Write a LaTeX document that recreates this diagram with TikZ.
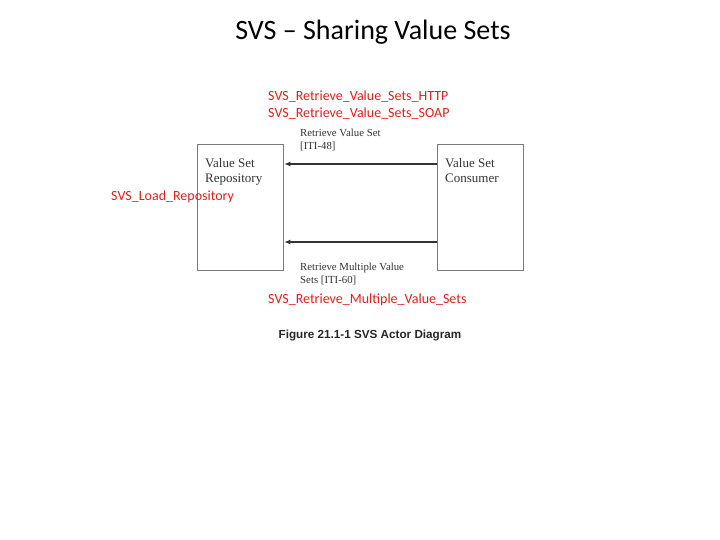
\documentclass[tikz,border=0pt]{standalone}
\usepackage{fontspec}
\setmainfont{Carlito}
\newfontfamily\timesf{Liberation Serif}
\newfontfamily\arialf{Liberation Sans}
\usetikzlibrary{arrows.meta}
\definecolor{svsred}{HTML}{E0201C}
\definecolor{boxgray}{HTML}{7A7A7A}
\definecolor{txtgray}{HTML}{333333}
\tikzset{
  actor/.style={draw=boxgray, line width=1.3pt, minimum width=86pt, minimum height=126pt, inner sep=0pt},
  actorlabel/.style={anchor=north west, align=left, font=\timesf\fontsize{13}{15.5}\selectfont, text=txtgray, inner sep=0pt},
  flow/.style={draw=txtgray, line width=1.3pt, -{Latex[length=6pt,width=5pt]}},
  flowlabel/.style={anchor=north west, align=left, font=\timesf\fontsize{10.8}{13}\selectfont, text=txtgray, inner sep=0pt},
  redlabel/.style={anchor=west, font=\fontsize{14}{16}\selectfont, text=svsred, inner sep=0pt},
}
\begin{document}
\begin{tikzpicture}[x=1pt,y=-1pt]
\useasboundingbox (0,0) rectangle (720,540);
\fill[white] (0,0) rectangle (720,540);
\node[font=\fontsize{28}{32}\selectfont, text=black] (title) at (373,32) {SVS – Sharing Value Sets};
\node[actor, anchor=north west] (repo) at (197,144) {};
\node[actor, anchor=north west] (cons) at (437,144) {};
\node[actorlabel] (repol) at (205,158) {Value Set\\Repository};
\node[actorlabel] (consl) at (445,158) {Value Set\\Consumer};
\coordinate (a1s) at (cons.west |- 0,164);
\coordinate (a1e) at (repo.east |- 0,164);
\coordinate (a2s) at (cons.west |- 0,242);
\coordinate (a2e) at (repo.east |- 0,242);
\draw[flow] (a1s) -- (a1e);
\draw[flow] (a2s) -- (a2e);
\node[flowlabel] (l1) at (300,129) {Retrieve Value Set\\{}[ITI-48]};
\node[flowlabel] (l2) at (300,263) {Retrieve Multiple Value\\Sets [ITI-60]};
\node[redlabel] (r1) at (268,97) {SVS\_Retrieve\_Value\_Sets\_HTTP};
\node[redlabel] (r2) at (268,114) {SVS\_Retrieve\_Value\_Sets\_SOAP};
\node[redlabel] (r3) at (111,197) {SVS\_Load\_Repository};
\node[redlabel] (r4) at (268,300) {SVS\_Retrieve\_Multiple\_Value\_Sets};
\node[font=\arialf\bfseries\fontsize{11.7}{14}\selectfont, text=black!85] (cap) at (370,335) {Figure 21.1-1 SVS Actor Diagram};
\end{tikzpicture}
\end{document}
